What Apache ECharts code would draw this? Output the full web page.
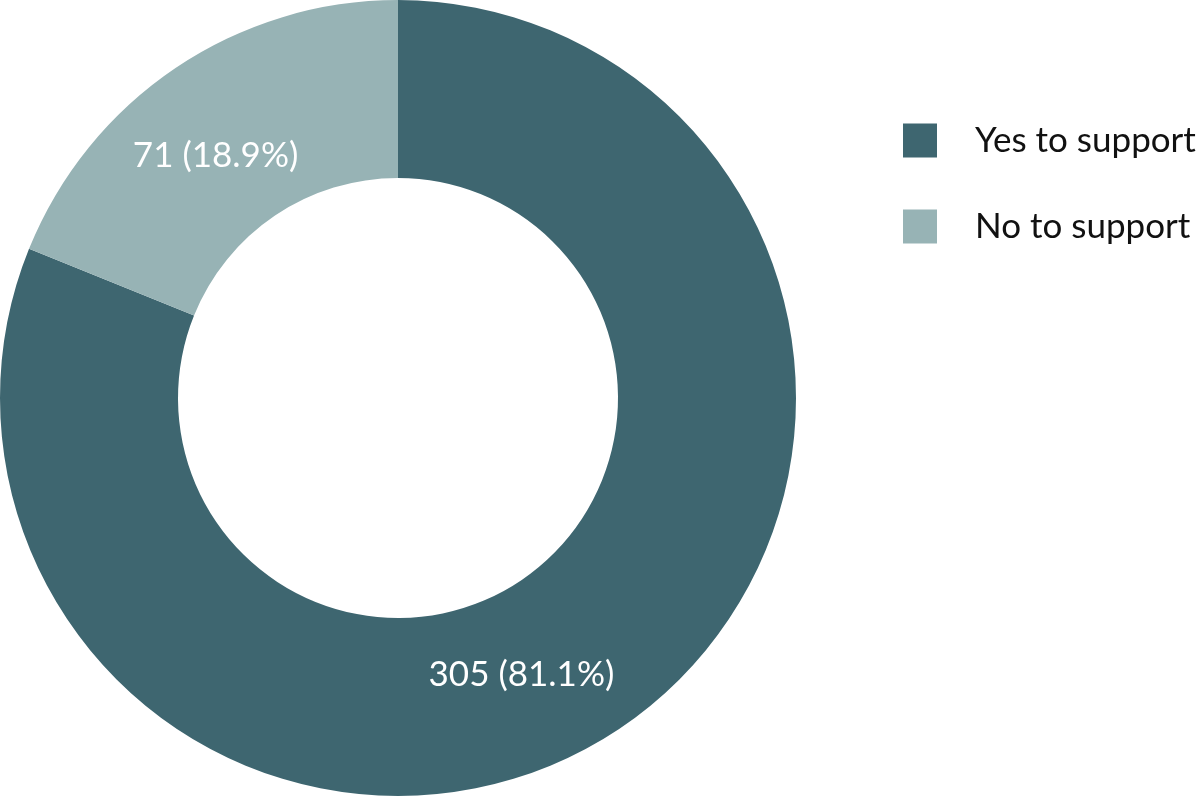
<!DOCTYPE html>
<html><head><meta charset="utf-8">
<style>html,body{margin:0;padding:0;background:#fff}#c{width:1200px;height:797px}</style>
<script src="https://cdn.jsdelivr.net/npm/echarts@6/dist/echarts.min.js"></script>
</head><body><div id="c"></div>
<script>
const categories = ['Yes to support', 'No to support'];
const values = [305, 71];
const colors = ['#3e6670', '#97b3b5'];
const labelOffsets = [[-51, 18], [-8, 16]];

const total = values.reduce((a, b) => a + b, 0);
const chart = echarts.init(document.getElementById('c'));
chart.setOption({
  animation: false,
  legend: {
    orient: 'vertical',
    left: 898, top: 118,
    itemWidth: 34, itemHeight: 34, itemGap: 51,
    icon: 'rect',
    textStyle: { fontFamily: 'Lato', fontSize: 35, color: '#111', padding: [0, 0, 0, 33], lineHeight: 34 },
    data: categories
  },
  series: [{
    type: 'pie',
    center: [398, 398],
    radius: [220, 398],
    startAngle: 90,
    clockwise: true,
    avoidLabelOverlap: false,
    label: {
      position: 'inside',
      fontFamily: 'Lato', fontSize: 35, color: '#fff',
      formatter: p => p.value + ' (' + (p.value / total * 100).toFixed(1) + '%)'
    },
    labelLine: { show: false },
    emphasis: { disabled: true },
    data: categories.map((n, i) => ({
      name: n, value: values[i],
      itemStyle: { color: colors[i] },
      label: { offset: labelOffsets[i] }
    }))
  }]
});
</script></body></html>
